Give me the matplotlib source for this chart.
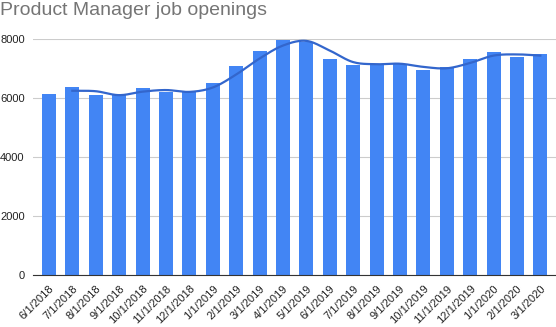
import matplotlib.pyplot as plt
import numpy as np

# Monthly job openings
months = ['6/1/2018', '7/1/2018', '8/1/2018', '9/1/2018', '10/1/2018', '11/1/2018',
          '12/1/2018', '1/1/2019', '2/1/2019', '3/1/2019', '4/1/2019', '5/1/2019',
          '6/1/2019', '7/1/2019', '8/1/2019', '9/1/2019', '10/1/2019', '11/1/2019',
          '12/1/2019', '1/1/2020', '2/1/2020', '3/1/2020']
openings = [6125, 6360, 6095, 6095, 6330, 6205, 6205, 6500, 7085, 7585, 7965, 7900,
            7310, 7120, 7165, 7155, 6950, 7060, 7310, 7560, 7390, 7480]
y_ticks = [0, 2000, 4000, 6000, 8000]


def catmull_rom(x, y, steps=20):
    """Smooth curve through the points (like the sheets trendline)."""
    px = np.concatenate([[2 * x[0] - x[1]], x, [2 * x[-1] - x[-2]]])
    py = np.concatenate([[2 * y[0] - y[1]], y, [2 * y[-1] - y[-2]]])
    xs, ys = [], []
    t = np.linspace(0, 1, steps, endpoint=False)
    for i in range(1, len(px) - 2):
        for p, out in ((px, xs), (py, ys)):
            p0, p1, p2, p3 = p[i - 1], p[i], p[i + 1], p[i + 2]
            out.append(0.5 * (2 * p1 + (-p0 + p2) * t
                              + (2 * p0 - 5 * p1 + 4 * p2 - p3) * t ** 2
                              + (-p0 + 3 * p1 - 3 * p2 + p3) * t ** 3))
    xs.append([x[-1]])
    ys.append([y[-1]])
    return np.concatenate(xs), np.concatenate(ys)


def main():
    plt.rcParams['font.family'] = ['Liberation Sans', 'DejaVu Sans']
    fig = plt.figure(figsize=(5.56, 3.27), dpi=100)
    ax = fig.add_axes([0.0594, 0.159, 0.9406, 0.722])

    x = np.arange(len(months))
    vals = np.array(openings, dtype=float)
    ax.bar(x, vals, width=0.6, color='#4285F4', zorder=2)

    # 2-period moving average trendline
    ma = (vals[1:] + vals[:-1]) / 2
    sx, sy = catmull_rom(x[1:].astype(float), ma)
    ax.plot(sx, sy, color='#3366CC', lw=1.6, zorder=3)

    ax.set_xlim(-0.68, 21.67)
    ax.set_ylim(0, 8000)
    ax.set_yticks(y_ticks)
    ax.set_yticklabels([str(v) for v in y_ticks], fontsize=8, color='#222222')
    ax.set_xticks(x)
    ax.set_xticklabels(months, rotation=45, ha='right', rotation_mode='anchor',
                       fontsize=8, color='#222222')
    ax.tick_params(axis='both', length=0, pad=6)
    ax.grid(axis='y', color='#cccccc', lw=0.8, zorder=0)
    for s in ['top', 'right', 'left']:
        ax.spines[s].set_visible(False)
    ax.spines['bottom'].set_color('#333333')
    ax.spines['bottom'].set_zorder(4)

    fig.text(0.0, 0.995, 'Product Manager job openings', fontsize=14,
             color='#757575', ha='left', va='top')
    fig.savefig('out.png', dpi=100)


if __name__ == '__main__':
    main()
